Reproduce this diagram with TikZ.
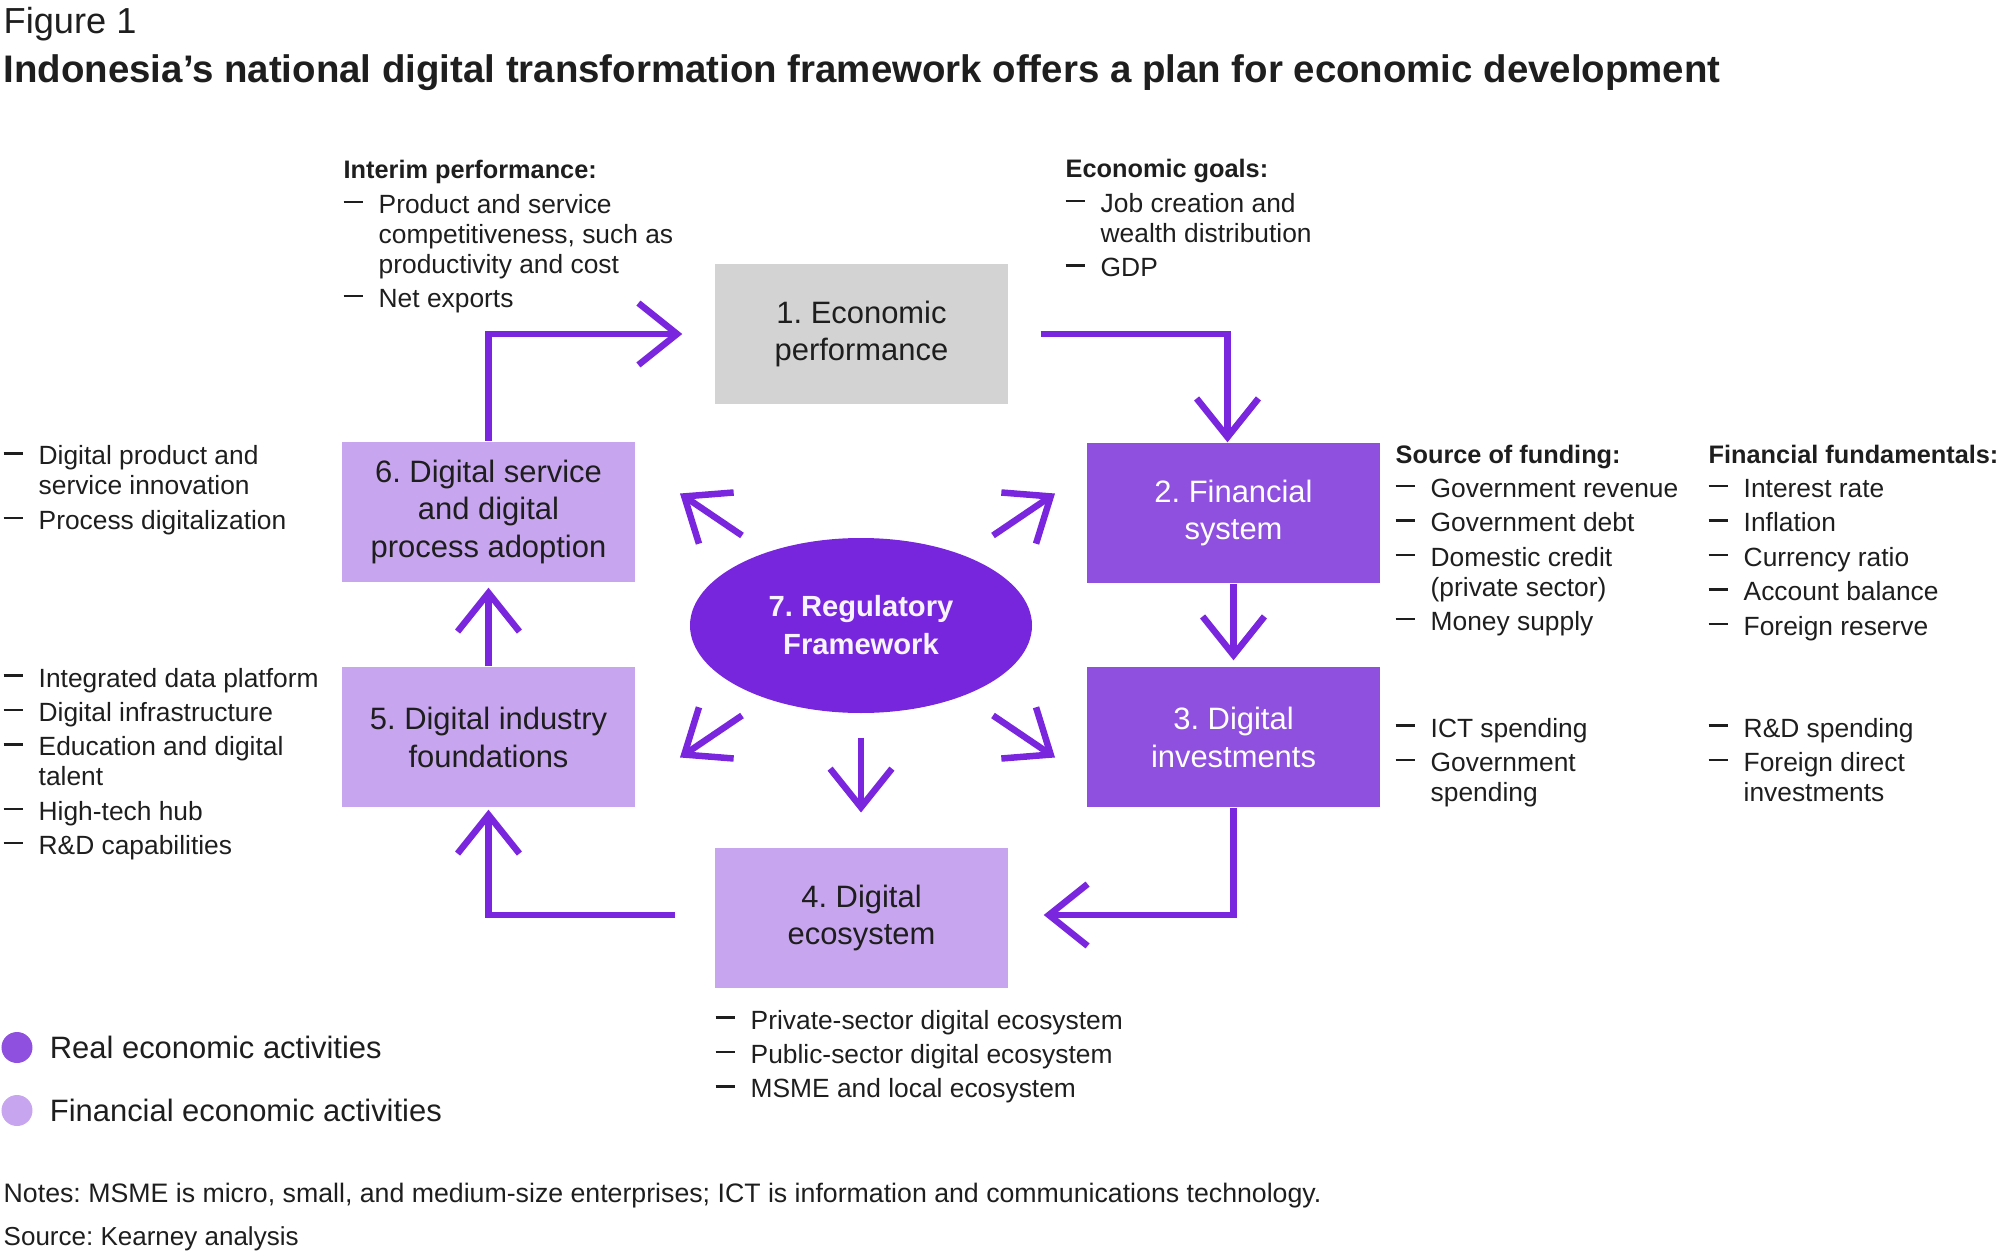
\documentclass[tikz,border=0pt]{standalone}
\usepackage{fontspec}
\setmainfont{Liberation Sans}
\usetikzlibrary{calc,positioning,arrows.meta,shapes.geometric}
\frenchspacing

\definecolor{kgray}{HTML}{D3D3D3}
\definecolor{kdark}{HTML}{8F50E0}
\definecolor{klight}{HTML}{C8A5EF}
\definecolor{kreg}{HTML}{7826DD}
\definecolor{karrow}{HTML}{7A25DE}
\definecolor{ktext}{HTML}{1E1E1E}

\newcommand{\ldash}{\makebox[0.35cm][l]{\rule[2.9pt]{5.4pt}{0.7pt}}}
\newcommand{\lhead}[1]{\multicolumn{2}{@{}l@{}}{\bfseries\fontsize{7.2}{8.5}\selectfont #1}}
\newcommand{\igap}{1.3pt}

\tikzset{
  box/.style={rectangle, minimum width=2.93cm, minimum height=1.40cm, inner sep=0pt,
    align=center, font=\fontsize{8.8}{10.8}\selectfont, text=ktext},
  reg/.style={ellipse, fill=kreg, minimum width=3.42cm, minimum height=1.75cm, inner sep=0pt,
    align=center, font=\bfseries\fontsize{8.3}{10.8}\selectfont, text=white!95!kreg},
  list/.style={anchor=base west, inner sep=0pt, font=\fontsize{7.5}{8.5}\selectfont, text=ktext},
  flow/.style={draw=karrow, line width=1.85pt, line join=miter,
    -{Straight Barb[length=11pt, width=17.6pt, line join=miter, line cap=butt]}},
  dot/.style={circle, minimum size=0.31cm, inner sep=0pt},
  legend/.style={inner sep=0pt, font=\fontsize{8.8}{10.8}\selectfont, text=ktext}
}

\begin{document}
\begin{tikzpicture}

\useasboundingbox (0,0) rectangle (20,-12.53);

% Heading
\node[anchor=base west, inner sep=0pt, text=ktext, font=\fontsize{10.3}{12}\selectfont] (fig) at (0.03,-0.34) {Figure 1};
\node[anchor=base west, inner sep=0pt, text=ktext, font=\bfseries\fontsize{10.93}{13}\selectfont] (title) at (0.03,-0.83)
  {Indonesia’s national digital transformation framework offers a plan for economic development};

% Boxes
\node[box, fill=kgray] (econ) at (8.615,-3.34) {1. Economic\\performance};
\node[box, fill=kdark, text=white] (fin) at (12.335,-5.13) {2. Financial\\system};
\node[box, fill=kdark, text=white] (inv) at (12.335,-7.37) {3. Digital\\investments};
\node[box, fill=klight] (eco) at (8.615,-9.18) {4. Digital\\ecosystem};
\node[box, fill=klight] (found) at (4.885,-7.37) {5. Digital industry\\foundations};
\node[box, fill=klight] (adopt) at (4.885,-5.12) {6. Digital service\\and digital\\process adoption};
\node[reg] (frame) at (8.61,-6.255) {7. Regulatory\\Framework};

% Cycle
\draw[flow] (adopt.north) |- ($(econ.west)+(-0.32,0)$);
\draw[flow] ($(econ.east)+(0.32,0)$) -| ([xshift=-0.06cm]fin.north);
\draw[flow] (fin.south) -- ([yshift=0.06cm]inv.north);
\draw[flow] (inv.south) |- ($(eco.east)+(0.35,0.03)$);
\draw[flow] ($(eco.west)+(-0.39,0.03)$) -| ([yshift=-0.02cm]found.south);
\draw[flow] (found.north) -- ([yshift=-0.05cm]adopt.south);

% Out of the framework
\draw[flow] ($(frame)+(-1.19,0.90)$) -- ($(frame)+(-1.81,1.32)$);
\draw[flow] ($(frame)+(1.32,0.90)$) -- ($(frame)+(1.94,1.32)$);
\draw[flow] ($(frame)+(-1.19,-0.90)$) -- ($(frame)+(-1.81,-1.32)$);
\draw[flow] ($(frame)+(1.32,-0.90)$) -- ($(frame)+(1.94,-1.32)$);
\draw[flow] ($(frame)+(0,-1.12)$) -- ($(frame)+(0,-1.87)$);

% Lists
\node[list] (interim) at (3.43,-1.79) {\begin{tabular}[t]{@{}l@{}l@{}}
  \lhead{Interim performance:}\\[\igap]
  \ldash & Product and service\\
         & competitiveness, such as\\
         & productivity and cost\\[\igap]
  \ldash & Net exports
\end{tabular}};
\node[list] (goals) at (10.65,-1.78) {\begin{tabular}[t]{@{}l@{}l@{}}
  \lhead{Economic goals:}\\[\igap]
  \ldash & Job creation and\\
         & wealth distribution\\[\igap]
  \ldash & GDP
\end{tabular}};
\node[list] (adoptlist) at (0.03,-4.65) {\begin{tabular}[t]{@{}l@{}l@{}}
  \ldash & Digital product and\\
         & service innovation\\[\igap]
  \ldash & Process digitalization
\end{tabular}};
\node[list] (foundlist) at (0.03,-6.87) {\begin{tabular}[t]{@{}l@{}l@{}}
  \ldash & Integrated data platform\\[\igap]
  \ldash & Digital infrastructure\\[\igap]
  \ldash & Education and digital\\
         & talent\\[\igap]
  \ldash & High-tech hub\\[\igap]
  \ldash & R\&D capabilities
\end{tabular}};
\node[list] (funding) at (13.95,-4.63) {\begin{tabular}[t]{@{}l@{}l@{}}
  \lhead{Source of funding:}\\[\igap]
  \ldash & Government revenue\\[\igap]
  \ldash & Government debt\\[\igap]
  \ldash & Domestic credit\\
         & (private sector)\\[\igap]
  \ldash & Money supply
\end{tabular}};
\node[list] (fundament) at (17.08,-4.63) {\begin{tabular}[t]{@{}l@{}l@{}}
  \lhead{Financial fundamentals:}\\[\igap]
  \ldash & Interest rate\\[\igap]
  \ldash & Inflation\\[\igap]
  \ldash & Currency ratio\\[\igap]
  \ldash & Account balance\\[\igap]
  \ldash & Foreign reserve
\end{tabular}};
\node[list] (spend) at (13.95,-7.37) {\begin{tabular}[t]{@{}l@{}l@{}}
  \ldash & ICT spending\\[\igap]
  \ldash & Government\\
         & spending
\end{tabular}};
\node[list] (rnd) at (17.08,-7.37) {\begin{tabular}[t]{@{}l@{}l@{}}
  \ldash & R\&D spending\\[\igap]
  \ldash & Foreign direct\\
         & investments
\end{tabular}};
\node[list] (ecolist) at (7.15,-10.29) {\begin{tabular}[t]{@{}l@{}l@{}}
  \ldash & Private-sector digital ecosystem\\[\igap]
  \ldash & Public-sector digital ecosystem\\[\igap]
  \ldash & MSME and local ecosystem
\end{tabular}};

% Legend
\node[dot, fill=kdark] (lgreal) at (0.17,-10.475) {};
\node[dot, fill=klight] (lgfin) at (0.17,-11.105) {};
\node[legend, right=0.16cm of lgreal] (lgrealtxt) {Real economic activities};
\node[legend, right=0.16cm of lgfin] (lgfintxt) {Financial economic activities};

% Notes
\node[anchor=base west, inner sep=0pt, text=ktext, font=\fontsize{7.6}{9}\selectfont] (notes) at (0.03,-12.02)
  {Notes: MSME is micro, small, and medium-size enterprises; ICT is information and communications technology.};
\node[anchor=base west, inner sep=0pt, text=ktext, font=\fontsize{7.4}{9}\selectfont] (source) at (0.03,-12.45)
  {Source: Kearney analysis};

\end{tikzpicture}
\end{document}
